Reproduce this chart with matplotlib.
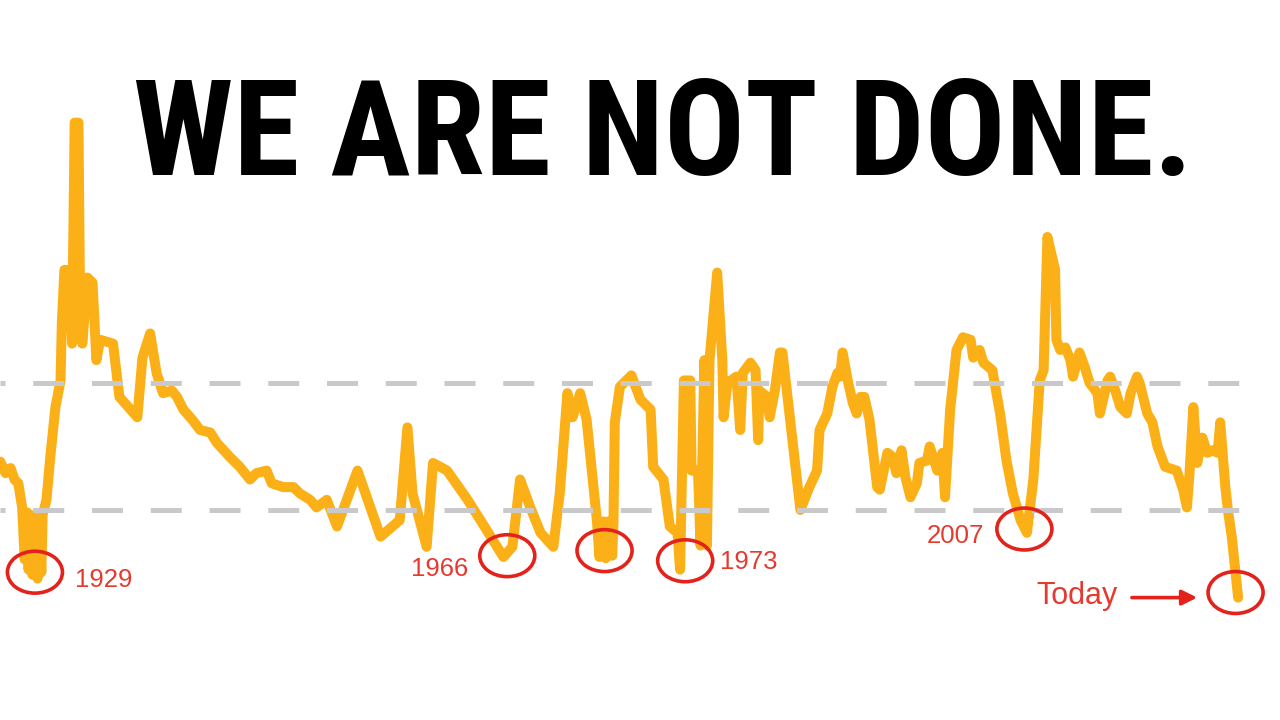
import matplotlib.pyplot as plt
from matplotlib.patches import Ellipse

# series (year, value)
years = [1926.3, 1926.7, 1927.1, 1927.4, 1927.7, 1928.0,
         1928.2, 1928.4, 1928.5, 1928.7, 1928.8, 1929.0, 1929.2, 1929.3, 1929.5, 1929.6,
         1929.9, 1930.2, 1930.6, 1931.0, 1931.1, 1931.3, 1931.7, 1931.9, 1932.1, 1932.4,
         1932.5, 1932.7, 1933.1, 1933.5, 1933.8, 1934.1, 1935.1, 1935.6, 1937.0, 1937.4,
         1938.0, 1938.5, 1939.0, 1939.7, 1940.1, 1940.6, 1941.3, 1941.9, 1942.7, 1943.2,
         1944.2, 1945.0, 1945.8, 1946.3, 1947.1, 1947.5, 1948.4, 1949.2, 1949.7, 1950.5,
         1951.0, 1951.8, 1952.6, 1954.2, 1956.0, 1957.5, 1958.1, 1958.5, 1959.6,
         1960.1, 1961.2, 1962.8, 1964.3, 1965.6, 1966.3, 1966.9, 1967.7, 1968.5, 1969.5,
         1970.0, 1970.6, 1971.0, 1971.6, 1972.1, 1972.9,
         1973.1, 1973.4, 1973.6, 1973.8, 1974.1,
         1974.2, 1974.3, 1974.7, 1975.6, 1976.3, 1977.1, 1977.3, 1978.1, 1978.6, 1979.2,
         1979.4, 1979.7, 1980.2, 1980.3, 1980.8, 1981.0, 1981.3, 1981.5, 1981.7,
         1982.3, 1982.7, 1982.8, 1983.1, 1983.8, 1984.1, 1984.3, 1984.9, 1985.3, 1985.5,
         1985.6, 1986.2, 1986.4, 1986.8, 1987.2, 1987.4,
         1988.0, 1988.8, 1989.5, 1990.1, 1990.3, 1990.9, 1991.3, 1991.7, 1991.9, 1992.1,
         1992.5, 1992.9, 1993.2, 1993.5, 1993.8, 1994.2, 1994.8, 1995.0, 1995.6, 1996.0,
         1996.3, 1996.7, 1997.0, 1997.4, 1997.9, 1998.1, 1998.7, 1998.9, 1999.5, 1999.9,
         2000.1, 2000.5, 2001.0, 2001.5, 2002.1, 2002.3, 2002.8, 2003.1, 2003.8, 2004.4,
         2004.9, 2005.4, 2006.0, 2006.5, 2007.0, 2007.5, 2007.8,
         2008.1, 2008.7, 2008.8, 2009.1, 2009.5, 2009.9, 2010.1, 2010.6, 2011.0, 2011.4,
         2012.0, 2012.2, 2012.8, 2013.0, 2013.4, 2013.8, 2014.3, 2014.6, 2015.1, 2015.3,
         2015.9, 2016.3, 2016.7, 2017.3, 2018.2, 2018.7, 2019.0, 2019.2, 2019.5, 2019.8,
         2020.2, 2020.6, 2021.0, 2021.4, 2021.6, 2022.0, 2022.2, 2022.5, 2022.8, 2023.0]
values = [13.8, 12.9, 13.3, 12.4, 12.1, 10.2,
          6.1, 9.8, 5.3, 9.6, 4.9, 9.4, 4.6, 9.2, 5.1, 9.6,
          10.8, 14.2, 18.1, 20.2, 24.7, 28.9, 28.9, 23.1, 40.5, 40.5,
          29.1, 23.1, 28.3, 27.9, 21.8, 23.4, 23.1, 18.9, 17.3, 22.0,
          23.9, 20.8, 19.2, 19.4, 18.9, 17.9, 17.1, 16.3, 16.1, 15.3,
          14.2, 13.4, 12.4, 12.9, 13.1, 12.1, 11.8, 11.8, 11.3, 10.8,
          10.2, 10.8, 8.7, 13.1, 7.9, 9.2, 16.5, 11.3, 7.1,
          13.7, 13.1, 10.8, 8.4, 6.3, 7.1, 12.4, 10.2, 8.2, 7.1,
          11.3, 19.2, 17.3, 19.2, 17.1, 9.2,
          6.3, 9.1, 6.2, 9.1, 6.4,
          9.2, 16.9, 19.7, 20.6, 18.7, 17.9, 13.4, 12.4, 8.7, 8.2,
          5.3, 20.2, 20.2, 13.1, 13.1, 7.2, 21.8, 7.2, 21.8,
          28.7, 21.8, 17.3, 20.0, 20.5, 16.3, 20.8, 21.6, 21.0, 15.5,
          19.4, 18.9, 17.3, 19.4, 22.4, 22.4,
          17.1, 10.0, 11.8, 13.1, 16.3, 17.6, 19.7, 20.8, 20.5, 22.4,
          20.2, 18.4, 17.6, 18.9, 18.9, 17.1, 11.8, 11.6, 14.5, 14.2,
          12.9, 14.7, 12.6, 11.0, 12.1, 13.7, 13.9, 15.0, 13.1, 14.5,
          11.0, 17.9, 22.6, 23.6, 23.4, 22.0, 22.6, 21.6, 21.0, 17.6,
          13.9, 11.3, 9.2, 8.2, 12.4, 20.2, 21.0,
          31.5, 28.9, 23.4, 22.6, 22.8, 21.8, 20.5, 22.4, 21.3, 20.0,
          19.2, 17.6, 20.2, 20.5, 19.4, 18.1, 17.6, 19.2, 20.5, 20.0,
          17.6, 16.9, 15.0, 13.4, 13.1, 11.6, 10.2, 12.9, 18.1, 13.7,
          15.7, 14.5, 14.7, 14.5, 16.9, 11.8, 10.0, 7.9, 5.0, 3.1]

bands = [10, 20]

mark_years = [1929.0, 1965.9, 1973.5, 1979.8, 2006.3, 2022.8]
mark_values = [5.1, 6.4, 6.8, 6.0, 8.5, 3.5]
mark_labels = ['1929', '1966', '', '1973', '2007', 'Today']

title = 'WE ARE NOT DONE.'

# label placement relative to each circle (pixels) and alignment
label_dx = [40, -39, 0, 35, -40, -118]
label_dy = [-8, -13, 0, -1, -7, -3]
label_ha = ['left', 'right', 'left', 'left', 'right', 'right']

fig = plt.figure(figsize=(12.8, 7.2), dpi=100)
fig.patch.set_facecolor('white')
ax = fig.add_axes([0, 0, 1, 1])
ax.set_xlim(1926.27, 2026.27)
ax.set_ylim(-6.54, 50.16)
ax.axis('off')

ax.plot(years, values, color='#FBB018', lw=7.2,
        solid_joinstyle='round', solid_capstyle='round', zorder=2)

for b in bands:
    ax.plot([1926.27, 2023.2], [b, b], color='#C9C9CB', lw=3.6,
            linestyle=(5.2, (6.2, 5.55)), zorder=3)

for x, y, lab, dx, dy, ha in zip(mark_years, mark_values, mark_labels,
                                  label_dx, label_dy, label_ha):
    ax.add_patch(Ellipse((x, y), width=4.3, height=3.3, fill=False,
                         edgecolor='#E3231B', lw=2.6, zorder=4))
    if lab:
        size = 22 if lab == 'Today' else 18.5
        ax.annotate(lab, xy=(x, y), xytext=(dx, dy), textcoords='offset pixels',
                    ha=ha, va='center', color='#E53A2F', fontsize=size,
                    family=['Liberation Sans', 'DejaVu Sans'], zorder=5)

# arrow pointing at today's reading
ax.annotate('', xy=(mark_years[-1] - 3.0, mark_values[-1] - 0.4),
            xytext=(mark_years[-1] - 8.1, mark_values[-1] - 0.4),
            arrowprops=dict(arrowstyle='-|>,head_length=0.9,head_width=0.45',
                            color='#E3231B', lw=2.6, shrinkA=0, shrinkB=0))

t = fig.text(662.5 / 1280, 1 - 175 / 720, title, ha='center', va='baseline',
             fontsize=95, fontweight='black', color='black',
             family=['Roboto Condensed', 'Liberation Sans Narrow', 'Roboto', 'DejaVu Sans'])
# fit the title to the width it takes in the reference
fig.canvas.draw()
w = t.get_window_extent().width
t.set_fontsize(95 * 1060 / w)

fig.savefig('out.png', dpi=100, facecolor='white')
